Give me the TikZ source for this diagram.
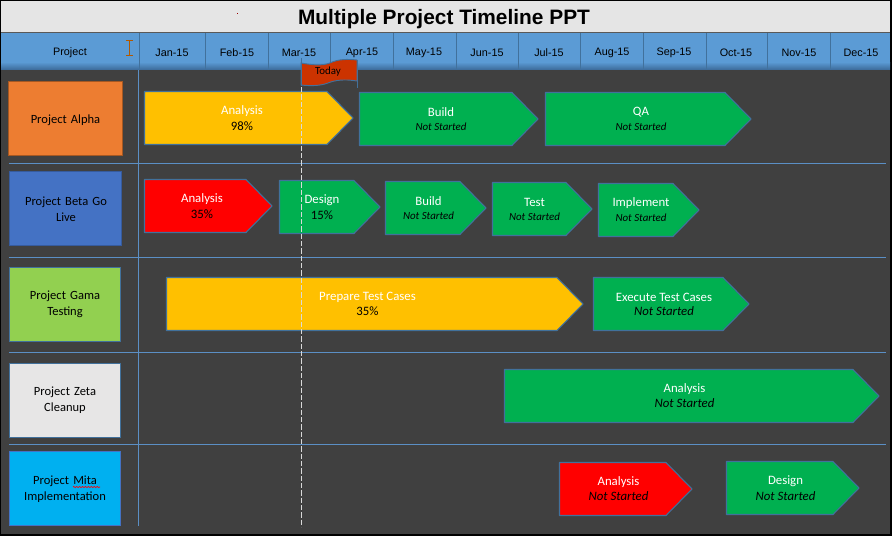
\documentclass[tikz,border=0pt]{standalone}
\usepackage{fontspec}
\setmainfont{Carlito}
\newfontfamily\hdrfont{Liberation Sans}
\usetikzlibrary{decorations.pathmorphing}
\definecolor{bgdark}{HTML}{404040}
\definecolor{hdrblue}{HTML}{5B9BD5}
\definecolor{hdrdark}{HTML}{3F6F9F}
\definecolor{edgeblue}{HTML}{41719C}
\definecolor{rulecol}{HTML}{5B8FC5}
\definecolor{ambercol}{HTML}{FFC000}
\definecolor{greencol}{HTML}{00B050}
\definecolor{redcol}{HTML}{FF0000}
\definecolor{flagcol}{HTML}{CC3300}
\definecolor{sideA}{HTML}{ED7D31}
\definecolor{sideB}{HTML}{4472C4}
\definecolor{sideC}{HTML}{92D050}
\definecolor{sideD}{HTML}{E7E6E6}
\definecolor{sideE}{HTML}{00B0F0}
\tikzset{
  x=0.75pt,y=-0.75pt,
  monthlbl/.style={font=\hdrfont\fontsize{8.1pt}{10pt}\selectfont,text=black,inner sep=0pt},
  sidelbl/.style={font=\fontsize{9.4pt}{12pt}\selectfont,text=black,align=center,text width=80pt,inner sep=0pt},
  sidebox/.style={line width=0.9pt},
  phase/.style={draw=edgeblue,line width=0.8pt,line join=round},
  toplbl/.style={font=\fontsize{9.6pt}{11pt}\selectfont,text=white,inner sep=0pt},
  pctlbl/.style={font=\fontsize{9.6pt}{11pt}\selectfont,text=black,inner sep=0pt},
  nslbl/.style={font=\itshape\fontsize{8.2pt}{10pt}\selectfont,text=black,inner sep=0pt},
  nsbig/.style={font=\itshape\fontsize{9.6pt}{11pt}\selectfont,text=black,inner sep=0pt},
  rowrule/.style={draw=rulecol,line width=0.6pt},
}
% name, x1, y1, x2, y2, tip start, colour, text centre x, top text
\newcommand{\phasebox}[9]{%
  \fill[#7] (#2,#3) -- (#6,#3) -- (#4,{(#3+#5)/2}) -- (#6,#5) -- (#2,#5) -- cycle;
  \draw[phase] (#2,#3) -- (#6,#3) -- (#4,{(#3+#5)/2}) -- (#6,#5) -- (#2,#5) -- cycle;
  \node[toplbl] (#1t) at (#8,{(#3+#5)/2-7}) {#9};
}
\begin{document}
\begin{tikzpicture}
\useasboundingbox (0,0) rectangle (892,536);
\fill[black] (0,0) rectangle (892,536);
\fill[bgdark] (1,1) rectangle (890,534);
% title band
\fill[gray!20] (1,1) rectangle (890,32);
\draw[gray!70!black,line width=0.6pt] (1,32.5) -- (890,32.5);
\node[font=\hdrfont\bfseries\fontsize{15.65pt}{18pt}\selectfont,inner sep=0pt] (title) at (444,19) {Multiple Project Timeline PPT};
\fill[red!60!black] (237,12.5) rectangle (238,13.5);
% header band
\fill[hdrblue] (1,33) rectangle (890,63);
\shade[top color=hdrblue,bottom color=hdrdark] (1,62) rectangle (890,69);
\foreach \cx in {139.5,205,268,330.5,393,456,518,580,643,706,767,830}
  \draw[edgeblue,line width=0.6pt] (\cx,33) -- (\cx,69);
\node[monthlbl] (hproject) at (70,53) {Project};
\foreach \nm/\cx in {Jan/172,Feb/237,Mar/299,Apr/362,May/424,Jun/487,Jul/549,Aug/612,Sep/674,Oct/736,Nov/799,Dec/861}
  \node[monthlbl] (m\nm) at (\cx,53) {\nm-15};
% cursor mark
\draw[orange!70!black,line width=0.5pt] (126,40.5) -- (133,40.5) (129.5,40.5) -- (129.5,55.5) (126,55.5) -- (133,55.5);
% rules
\coordinate (vtop) at (138.5,70); \coordinate (vbot) at (138.5,526);
\draw[rowrule] (vtop) -- (vbot);
\foreach \ry in {163,257,352,444}
  \draw[rowrule] (9,\ry) -- (886,\ry);
% project boxes
\filldraw[sidebox,fill=sideA,draw=sideA!70!black] (8.5,81.5) rectangle (122.5,155.5);
\filldraw[sidebox,fill=sideB,draw=sideB!80!black] (9.5,171.5) rectangle (121.5,245.5);
\filldraw[sidebox,fill=sideC,draw=edgeblue] (9.5,267.5) rectangle (120.5,341.5);
\filldraw[sidebox,fill=sideD,draw=edgeblue] (9.5,363.5) rectangle (120.5,437.5);
\filldraw[sidebox,fill=sideE,draw=sideB] (9.5,451.5) rectangle (120.5,525.5);
\node[sidelbl] (pa) at (65.5,120) {Project Alpha};
\node[sidelbl] (pb) at (66,209.5) {Project Beta Go\\Live};
\node[sidelbl] (pc) at (65,304.5) {Project Gama\\Testing};
\node[sidelbl] (pd) at (65,400.5) {Project Zeta\\Cleanup};
\node[sidelbl] (pe) at (65,489.5) {Project Mita\\Implementation};
\draw[red,line width=0.5pt,decorate,decoration={zigzag,segment length=2.2pt,amplitude=0.45pt}] (73,487) -- (100,487);
% phases
\phasebox{a1}{144.5}{91.5}{353}{144.5}{327}{ambercol}{242}{Analysis}
\node[pctlbl] (a1b) at (242,126) {98\%};
\phasebox{a2}{359.5}{92.5}{538}{145.5}{512}{greencol}{441}{Build}
\node[nslbl] (a2b) at (441,127) {Not Started};
\phasebox{a3}{545.5}{92.5}{751}{145.5}{725}{greencol}{641}{QA}
\node[nslbl] (a3b) at (641,127) {Not Started};
\phasebox{b1}{144.5}{179.5}{272}{232.5}{246}{redcol}{202}{Analysis}
\node[pctlbl] (b1b) at (202,214) {35\%};
\phasebox{b2}{279.5}{180.5}{380}{233.5}{354}{greencol}{322}{Design}
\node[pctlbl] (b2b) at (322,215) {15\%};
\phasebox{b3}{385.5}{181.5}{486}{234.5}{460}{greencol}{428.5}{Build}
\node[nslbl] (b3b) at (428.5,216) {Not Started};
\phasebox{b4}{492.5}{182.5}{592}{235.5}{566}{greencol}{534.5}{Test}
\node[nslbl] (b4b) at (534.5,217) {Not Started};
\phasebox{b5}{598.5}{183.5}{699}{236.5}{673}{greencol}{641}{Implement}
\node[nslbl] (b5b) at (641,218) {Not Started};
\phasebox{c1b}{166.5}{277.5}{583}{330.5}{557}{ambercol}{367.5}{Prepare Test Cases}
\node[pctlbl] (c1l) at (367.5,311) {35\%};
\phasebox{c2b}{593.5}{277.5}{749}{330.5}{723}{greencol}{664}{Execute Test Cases}
\node[nsbig] (c2l) at (664,311) {Not Started};
\phasebox{d1}{504.5}{369.5}{879}{422.5}{853}{greencol}{684.5}{Analysis}
\node[nsbig] (d1b) at (684.5,403) {Not Started};
\phasebox{e1}{559.5}{462.5}{692}{515.5}{666}{redcol}{618.5}{Analysis}
\node[nsbig] (e1b) at (618.5,496) {Not Started};
\phasebox{e2}{726.5}{461.5}{859}{514.5}{833}{greencol}{785.5}{Design}
\node[nsbig] (e2b) at (785.5,496) {Not Started};
% today flag and line
\coordinate (linetop) at (301.5,87); \coordinate (linebot) at (301.5,527);
\draw[white!85!black,line width=0.8pt,dash pattern=on 4pt off 1.5pt] (linetop) -- (linebot);
\filldraw[fill=flagcol,draw=edgeblue,line width=0.7pt]
  (301,63) .. controls (312,65) and (322,66) .. (330,63)
  .. controls (338,59) and (348,59) .. (357,60)
  -- (357,81) .. controls (345,79) and (335,80) .. (328,83)
  .. controls (320,86) and (310,86) .. (301,85) -- cycle;
\draw[edgeblue,line width=0.7pt] (301,58) -- (301,86) (357,60) -- (357,88);
\node[font=\fontsize{8.2pt}{9pt}\selectfont,text=black,inner sep=0pt] (today) at (328,72) {Today};
\end{tikzpicture}
\end{document}
